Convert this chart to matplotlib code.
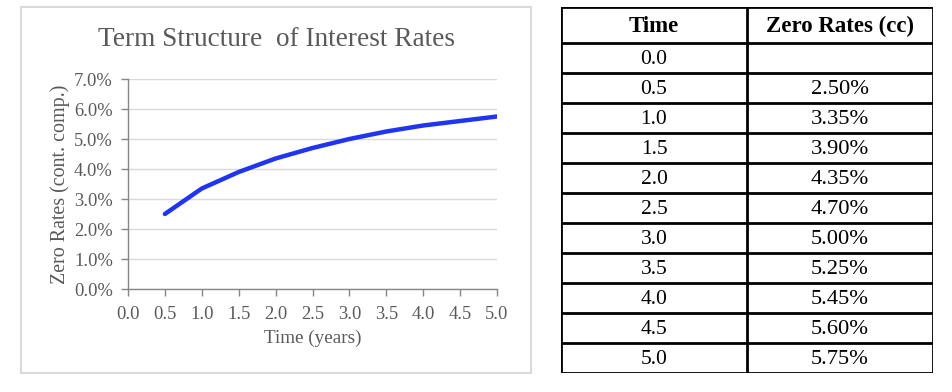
import matplotlib
matplotlib.use("Agg")
import matplotlib.pyplot as plt
from matplotlib.patches import Rectangle
from matplotlib.ticker import FuncFormatter, MultipleLocator

times = [0.0, 0.5, 1.0, 1.5, 2.0, 2.5, 3.0, 3.5, 4.0, 4.5, 5.0]
zero_rates = [None, 2.50, 3.35, 3.90, 4.35, 4.70, 5.00, 5.25, 5.45, 5.60, 5.75]
col_headers = ['Time', 'Zero Rates (cc)']
title = 'Term Structure  of Interest Rates'

W, H = 952, 392
plt.rcParams['font.family'] = ['Liberation Serif', 'DejaVu Serif']
fig = plt.figure(figsize=(W / 100, H / 100), dpi=100)
fig.patch.set_facecolor('white')

gray_txt = '#595959'

def fx(px):
    return px / W

def fy(py):
    return 1 - py / H

# chart frame
fig.patches.append(Rectangle((fx(21), fy(373)), fx(531) - fx(21), fy(7) - fy(373),
                             transform=fig.transFigure, fill=False,
                             edgecolor='#d9d9d9', lw=1.5))

ax = fig.add_axes([fx(128), fy(289), fx(497) - fx(128), fy(79) - fy(289)])
xs = [t for t, r in zip(times, zero_rates) if r is not None]
ys = [r for r in zero_rates if r is not None]
ax.plot(xs, ys, color='#1f35f0', lw=3.2, solid_capstyle='round', zorder=3)

ax.set_xlim(0, 5)
ax.set_ylim(0, 7)
ax.xaxis.set_major_locator(MultipleLocator(0.5))
ax.yaxis.set_major_locator(MultipleLocator(1))
ax.xaxis.set_major_formatter(FuncFormatter(lambda v, p: f'{v:.1f}'))
ax.yaxis.set_major_formatter(FuncFormatter(lambda v, p: f'{v:.1f}%'))
ax.grid(axis='y', color='#d9d9d9', lw=1)
ax.set_axisbelow(True)
for s in ['top', 'right']:
    ax.spines[s].set_visible(False)
for s in ['left', 'bottom']:
    ax.spines[s].set_color('#868686')
    ax.spines[s].set_linewidth(1)
ax.tick_params(axis='both', colors='#868686', length=5, width=1,
               labelcolor=gray_txt, labelsize=13.3)
ax.tick_params(axis='x', pad=7)
ax.tick_params(axis='y', pad=6)
ax.set_xlabel('Time (years)', fontsize=13.8, color=gray_txt, labelpad=5)
ax.set_ylabel('Zero Rates (cont. comp.)', fontsize=14.4, color=gray_txt, labelpad=3)

fig.text(fx(276), fy(39), title, ha='center', va='center', fontsize=19.6, color=gray_txt)

# table on the right
tab = fig.add_axes([fx(561), fy(373), fx(933) - fx(561), fy(7) - fy(373)])
tab.set_xlim(561, 933)
tab.set_ylim(373, 7)
tab.axis('off')
col_x = [561, 747, 933]
header_h = 36
row_h = (373 - 7 - header_h) / len(times)
row_y = [7, 7 + header_h] + [7 + header_h + row_h * (i + 1) for i in range(len(times))]
for y in row_y:
    tab.plot([col_x[0], col_x[-1]], [y, y], color='black', lw=2, solid_capstyle='projecting')
for x in col_x:
    tab.plot([x, x], [row_y[0], row_y[-1]], color='black', lw=2, solid_capstyle='projecting')
for j, h in enumerate(col_headers):
    tab.text((col_x[j] + col_x[j + 1]) / 2, 7 + header_h / 2 + 1, h, ha='center', va='center',
             fontsize=16.5, fontweight='bold', color='black')
for i, (t, r) in enumerate(zip(times, zero_rates)):
    yc = row_y[i + 1] + row_h / 2 + 1
    tab.text((col_x[0] + col_x[1]) / 2, yc, f'{t:.1f}', ha='center', va='center',
             fontsize=15.5, color='black')
    if r is not None:
        tab.text((col_x[1] + col_x[2]) / 2, yc, f'{r:.2f}%', ha='center', va='center',
                 fontsize=16.2, color='black')

fig.savefig('out.png', dpi=100, facecolor='white')
